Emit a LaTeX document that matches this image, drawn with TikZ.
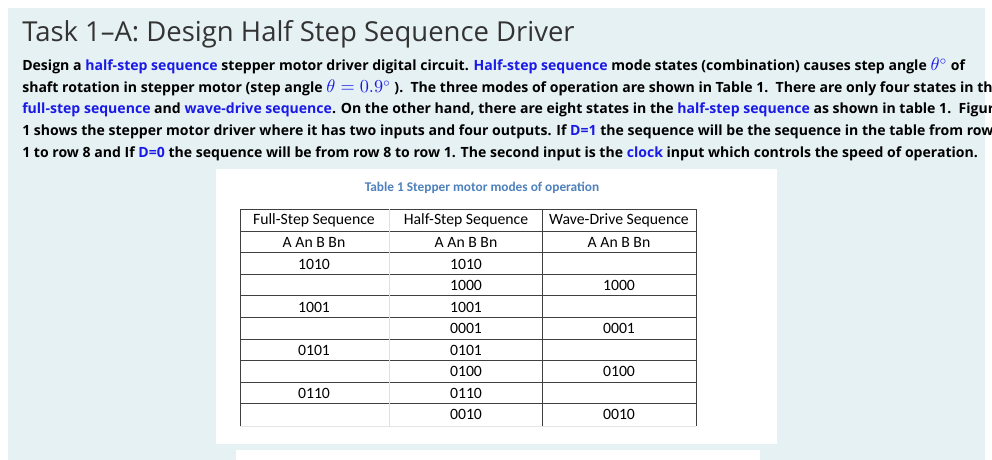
\documentclass[tikz,border=0pt]{standalone}
\usepackage{fontspec}
\setmainfont{Open Sans}
\newfontfamily\tabfont{Carlito}
\definecolor{panel}{HTML}{E6F1F4}
\definecolor{kw}{HTML}{1A1AE6}
\definecolor{cap}{HTML}{4F81BD}
\newcommand{\kw}[1]{\textcolor{kw}{#1}}
\newcommand{\mathkw}[1]{\textcolor{kw}{\scalebox{1.25}{#1}}}
\begin{document}
\begin{tikzpicture}[x=0.75pt,y=-0.75pt,
  line/.style={anchor=west,inner sep=0pt,font=\fontsize{10.55}{12}\selectfont\bfseries},
  cell/.style={inner sep=0pt,font=\tabfont\fontsize{11.8}{13}\selectfont},
  rule/.style={draw=black!75,line width=0.6pt}]
\useasboundingbox (0,0) rectangle (992,460);
\fill[white] (0,0) rectangle (992,460);
\fill[panel] (8,8) rectangle (985,460);
\fill[white] (216,169) rectangle (777,444);
\fill[white] (236,450) rectangle (760,460);
\node[anchor=west,inner sep=0pt,font=\fontsize{20.6}{23}\selectfont,text=black!80] (title) at (22,34) {Task 1--A: Design Half Step Sequence Driver};
\node[line] (l1) at (22,66) {Design a \kw{half-step sequence} stepper motor driver digital circuit. \kw{Half-step sequence} mode states (combination) causes step angle \mathkw{$\theta^\circ$} of};
\node[line] (l2) at (22,88) {shaft rotation in stepper motor (step angle \mathkw{$\theta=0.9^\circ$} ).\ \ The three modes of operation are shown in Table 1.\ \ There are only four states in the};
\node[line] (l3) at (22,110) {\kw{full-step sequence} and \kw{wave-drive sequence}. On the other hand, there are eight states in the \kw{half-step sequence} as shown in table 1.\ \ Figure};
\node[line] (l4) at (22,132) {1 shows the stepper motor driver where it has two inputs and four outputs. If \kw{D=1} the sequence will be the sequence in the table from row};
\node[line] (l5) at (22,154) {1 to row 8 and If \kw{D=0} the sequence will be from row 8 to row 1. The second input is the \kw{clock} input which controls the speed of operation.};
\node[inner sep=0pt,font=\tabfont\bfseries\fontsize{10}{12}\selectfont,text=cap] (caption) at (482,188) {Table 1 Stepper motor modes of operation};
\foreach \y in {209,231,252,274,295,317,339,360,382,403}
  \draw[rule] (240,\y) -- (696,\y);
\draw[rule] (240,209) -- (240,426);
\draw[draw=black!12,line width=0.6pt] (389,209) -- (389,426);
\draw[rule] (542,209) -- (542,426);
\draw[rule] (696,209) -- (696,426);
\draw[draw=black!10,line width=0.6pt] (240,426) -- (696,426);
\node[cell] (h1) at (314,220) {Full-Step Sequence};
\node[cell] (h2) at (466,220) {Half-Step Sequence};
\node[cell] (h3) at (619,220) {Wave-Drive Sequence};
\node[cell] (s1) at (314,242) {A An B Bn};
\node[cell] (s2) at (466,242) {A An B Bn};
\node[cell] (s3) at (619,242) {A An B Bn};
\node[cell] (f1) at (314,264) {1010};
\node[cell] (f3) at (314,307) {1001};
\node[cell] (f5) at (314,350) {0101};
\node[cell] (f7) at (314,393) {0110};
\node[cell] (m1) at (466,264) {1010};
\node[cell] (m2) at (466,285) {1000};
\node[cell] (m3) at (466,307) {1001};
\node[cell] (m4) at (466,328) {0001};
\node[cell] (m5) at (466,350) {0101};
\node[cell] (m6) at (466,371) {0100};
\node[cell] (m7) at (466,393) {0110};
\node[cell] (m8) at (466,414) {0010};
\node[cell] (w2) at (619,285) {1000};
\node[cell] (w4) at (619,328) {0001};
\node[cell] (w6) at (619,371) {0100};
\node[cell] (w8) at (619,414) {0010};
\end{tikzpicture}
\end{document}
